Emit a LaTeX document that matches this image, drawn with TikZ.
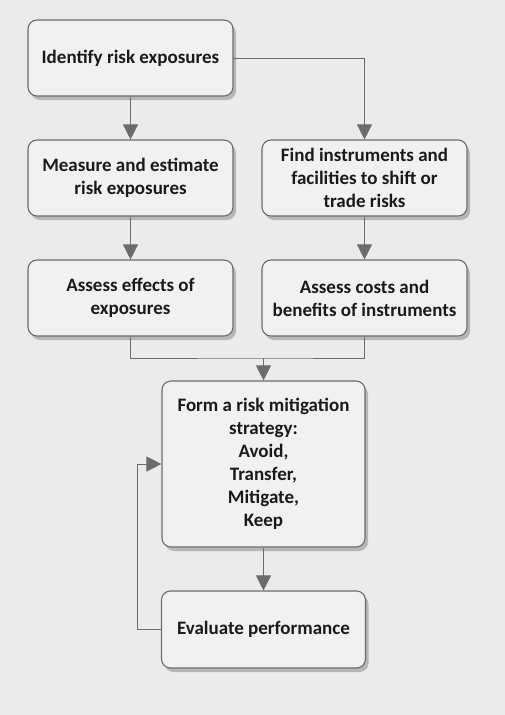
\documentclass[tikz,border=0pt]{standalone}
\usepackage{fontspec}
\setmainfont{Carlito}
\usetikzlibrary{arrows.meta,shadows}
\definecolor{bgcol}{HTML}{EBEBEB}
\definecolor{boxcol}{HTML}{F1F1F1}
\definecolor{edgecol}{HTML}{6C6C6C}
\definecolor{txtcol}{HTML}{1A1A1A}
\begin{document}
\begin{tikzpicture}[x=1pt,y=-1pt,
    box/.style={draw=edgecol,line width=1.1pt,fill=boxcol,rounded corners=9pt,
        minimum width=205pt,minimum height=76pt,align=center,text=txtcol,
        font=\fontsize{19}{23}\selectfont\bfseries,
        drop shadow={shadow xshift=3pt,shadow yshift=-4pt,opacity=0.22,fill=black}},
    link/.style={draw=edgecol,line width=0.9pt},
    conn/.style={link,-{Triangle[length=15pt,width=15pt]}}]
    % background
    \fill[bgcol] (0,0) rectangle (505,715);
    \useasboundingbox (0,0) rectangle (505,715);
    % boxes
    \node[box] (identify) at (130.5,58) {Identify risk exposures};
    \node[box] (measure) at (130.5,178) {Measure and estimate\\risk exposures};
    \node[box] (find) at (364.5,178) {Find instruments and\\facilities to shift or\\trade risks};
    \node[box] (effects) at (130.5,298) {Assess effects of\\exposures};
    \node[box] (costs) at (364.5,298) {Assess costs and\\benefits of instruments};
    \node[box,minimum width=203pt,minimum height=166pt] (form) at (263.5,464)
        {Form a risk mitigation\\strategy:\\Avoid,\\Transfer,\\Mitigate,\\Keep};
    \node[box,minimum width=204pt,minimum height=77pt] (evaluate) at (263.5,629.5) {Evaluate performance};
    % connectors
    \coordinate (merge) at (263.5,358);
    \draw[conn] (identify) -- (measure);
    \draw[conn] (identify.east) -| (find.north);
    \draw[conn] (measure) -- (effects);
    \draw[conn] (find) -- (costs);
    \draw[link] (effects.south) |- (merge) -| (costs.south);
    \draw[conn] (merge) -- (form.north);
    \draw[conn] (form) -- (evaluate);
    \draw[conn] (evaluate.west) -- ++(-24,0) |- (form.west);
\end{tikzpicture}
\end{document}
